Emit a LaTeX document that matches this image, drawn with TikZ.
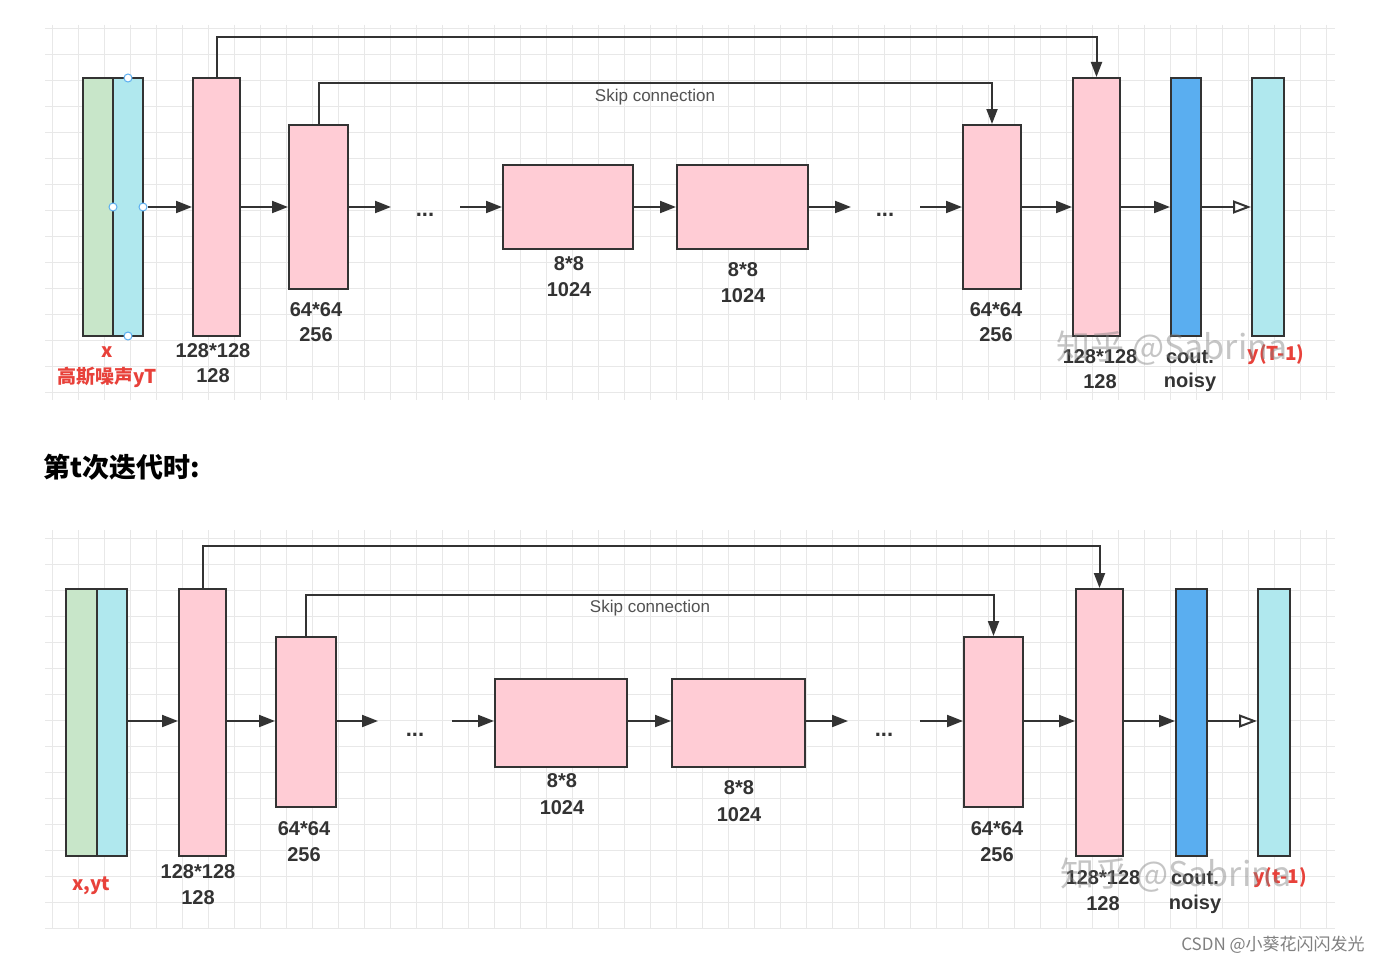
\documentclass[tikz,border=0pt]{standalone}
\usepackage{fontspec}
\setmainfont{Liberation Sans}
\newfontfamily\cjk{Noto Sans CJK SC}
\usetikzlibrary{arrows.meta}
\definecolor{pk}{HTML}{FFCCD5}
\definecolor{gr}{HTML}{C8E6C9}
\definecolor{cy}{HTML}{B0E8EE}
\definecolor{bl}{HTML}{5AAEF0}
\definecolor{rd}{HTML}{E8413A}
\definecolor{ln}{HTML}{333333}
\begin{document}
\begin{tikzpicture}[x=1pt,y=-1pt,
 box/.style={draw=ln,line width=2pt},
 ar/.style={ln,line width=2pt,-{Triangle[length=16pt,width=12pt]}},
 oar/.style={ln,line width=2pt,-{Triangle[open,length=18pt,width=13pt,fill=white]}},
 sk/.style={ln,line width=2pt,-{Triangle[length=15pt,width=11pt]}},
 lb/.style={font=\fontsize{20}{22}\selectfont\bfseries,text=ln,inner sep=0pt},
 rl/.style={font=\cjk\fontsize{19}{22}\selectfont\bfseries,text=rd,inner sep=0pt},
 dots/.style={font=\fontsize{22}{22}\selectfont\bfseries,text=ln,inner sep=0pt},
 sc/.style={font=\fontsize{17}{20}\selectfont,text=ln!85,inner sep=0pt},
 wm/.style={font=\cjk\fontsize{34}{36}\selectfont,text=gray,opacity=0.45,inner sep=0pt},
 gl/.style={black!9,line width=0.8pt},
 hd/.style={circle,draw=bl,fill=white,line width=1pt,inner sep=0pt,minimum size=8pt}]
\useasboundingbox (0,0) rectangle (1395,966);
\fill[white] (0,0) rectangle (1395,966);
% grids
\foreach \gx in {52,78,...,1335} {\draw[gl] (\gx,25) -- (\gx,400); \draw[gl] (\gx,530) -- (\gx,928);}
\foreach \gy in {28,54,...,400} {\draw[gl] (45,\gy) -- (1335,\gy);}
\foreach \gy in {538,564,...,928} {\draw[gl] (45,\gy) -- (1335,\gy);}
% ===== TOP =====
\node[box,fill=gr,minimum width=30pt,minimum height=258pt,inner sep=0pt] (tg) at (98,207) {};
\node[box,fill=cy,minimum width=30pt,minimum height=258pt,inner sep=0pt] (tc) at (128,207) {};
\node[box,fill=pk,minimum width=47pt,minimum height=258pt] (t1) at (216.5,207) {};
\node[box,fill=pk,minimum width=59pt,minimum height=164pt] (t2) at (318.5,207) {};
\node[dots] (td1) at (425,215) {...};
\node[box,fill=pk,minimum width=130pt,minimum height=84pt] (t3) at (568,207) {};
\node[box,fill=pk,minimum width=131pt,minimum height=84pt] (t4) at (742.5,207) {};
\node[dots] (td2) at (885,215) {...};
\node[box,fill=pk,minimum width=58pt,minimum height=164pt] (t5) at (992,207) {};
\node[box,fill=pk,minimum width=47pt,minimum height=258pt] (t6) at (1096.5,207) {};
\node[box,fill=bl,minimum width=30pt,minimum height=258pt] (t7) at (1186,207) {};
\node[box,fill=cy,minimum width=32pt,minimum height=258pt] (t8) at (1268,207) {};
\node[hd] (h1) at (128,78) {};
\node[hd] (h2) at (128,336) {};
\node[hd] (h3) at (113,207) {};
\node[hd] (h4) at (143,207) {};
\draw[ar] (h4) -- (t1.west);
\draw[ar] (t1) -- (t2);
\draw[ar] (t2.east) -- ++(42,0);
\draw[ar] (460,207) -- (t3.west);
\draw[ar] (t3) -- (t4);
\draw[ar] (t4.east) -- ++(42,0);
\draw[ar] (920,207) -- (t5.west);
\draw[ar] (t5) -- (t6);
\draw[ar] (t6) -- (t7);
\draw[oar] (t7) -- (t8);
\draw[sk] (t1.north) -- (216.5,37) -| (t6.north);
\draw[sk] (t2.north) -- (318.5,83) -| (t5.north);
\node[sc] (tsk) at (655,97) {Skip connection};
\node[rl] (tx) at (107,352) {x};
\node[rl] (tyT) at (107,377) {高斯噪声yT};
\node[lb] (l1) at (213,351) {128*128};
\node[lb] (l1b) at (213,376) {128};
\node[lb] (l2) at (316,310) {64*64};
\node[lb] (l2b) at (316,335) {256};
\node[lb] (l3) at (569,264) {8*8};
\node[lb] (l3b) at (569,290) {1024};
\node[lb] (l4) at (743,270) {8*8};
\node[lb] (l4b) at (743,296) {1024};
\node[lb] (l5) at (996,310) {64*64};
\node[lb] (l5b) at (996,335) {256};
\node[lb] (l6) at (1100,357) {128*128};
\node[lb] (l6b) at (1100,382) {128};
\node[lb] (l7) at (1190,357) {cout.};
\node[lb] (l7b) at (1190,382) {noisy};
\node[rl] (l8) at (1276,355) {y(T-1)};
\node[wm] (w1) at (1172,348) {知乎 @Sabrina};
% heading
\node[font=\cjk\fontsize{27}{30}\selectfont\bfseries,anchor=west,inner sep=0pt] (hd) at (43,467) {第t次迭代时:};
% ===== BOTTOM =====
\node[box,fill=gr,minimum width=31pt,minimum height=267pt] (bg) at (81.5,722.5) {};
\node[box,fill=cy,minimum width=30pt,minimum height=267pt] (bc) at (112,722.5) {};
\node[box,fill=pk,minimum width=47pt,minimum height=267pt] (b1) at (202.5,722.5) {};
\node[box,fill=pk,minimum width=60pt,minimum height=170pt] (b2) at (306,722) {};
\node[dots] (bd1) at (415,735) {...};
\node[box,fill=pk,minimum width=132pt,minimum height=88pt] (b3) at (561,723) {};
\node[box,fill=pk,minimum width=133pt,minimum height=88pt] (b4) at (738.5,723) {};
\node[dots] (bd2) at (884,735) {...};
\node[box,fill=pk,minimum width=59pt,minimum height=170pt] (b5) at (993.5,722) {};
\node[box,fill=pk,minimum width=47pt,minimum height=267pt] (b6) at (1099.5,722.5) {};
\node[box,fill=bl,minimum width=31pt,minimum height=267pt] (b7) at (1191.5,722.5) {};
\node[box,fill=cy,minimum width=32pt,minimum height=267pt] (b8) at (1274,722.5) {};
\draw[ar] (bc.east |- 0,721) -- (b1.west |- 0,721);
\draw[ar] (b1.east |- 0,721) -- (b2.west |- 0,721);
\draw[ar] (b2.east |- 0,721) -- (378,721);
\draw[ar] (452,721) -- (b3.west |- 0,721);
\draw[ar] (b3.east |- 0,721) -- (b4.west |- 0,721);
\draw[ar] (b4.east |- 0,721) -- (848,721);
\draw[ar] (920,721) -- (b5.west |- 0,721);
\draw[ar] (b5.east |- 0,721) -- (b6.west |- 0,721);
\draw[ar] (b6.east |- 0,721) -- (b7.west |- 0,721);
\draw[oar] (b7.east |- 0,721) -- (b8.west |- 0,721);
\draw[sk] (b1.north) -- (202.5,546) -| (b6.north);
\draw[sk] (b2.north) -- (306,595) -| (b5.north);
\node[sc] (bsk) at (650,608) {Skip connection};
\node[rl] (bx) at (91,886) {x,yt};
\node[lb] (m1) at (198,872) {128*128};
\node[lb] (m1b) at (198,898) {128};
\node[lb] (m2) at (304,829) {64*64};
\node[lb] (m2b) at (304,855) {256};
\node[lb] (m3) at (562,781) {8*8};
\node[lb] (m3b) at (562,808) {1024};
\node[lb] (m4) at (739,788) {8*8};
\node[lb] (m4b) at (739,815) {1024};
\node[lb] (m5) at (997,829) {64*64};
\node[lb] (m5b) at (997,855) {256};
\node[lb] (m6) at (1103,878) {128*128};
\node[lb] (m6b) at (1103,904) {128};
\node[lb] (m7) at (1195,878) {cout.};
\node[lb] (m7b) at (1195,904) {noisy};
\node[rl] (m8) at (1280,878) {y(t-1)};
\node[wm] (w2) at (1176,875) {知乎 @Sabrina};
\node[font=\cjk\fontsize{17}{20}\selectfont,text=gray,inner sep=0pt] (csdn) at (1273,945) {CSDN @小葵花闪闪发光};
\end{tikzpicture}
\end{document}
